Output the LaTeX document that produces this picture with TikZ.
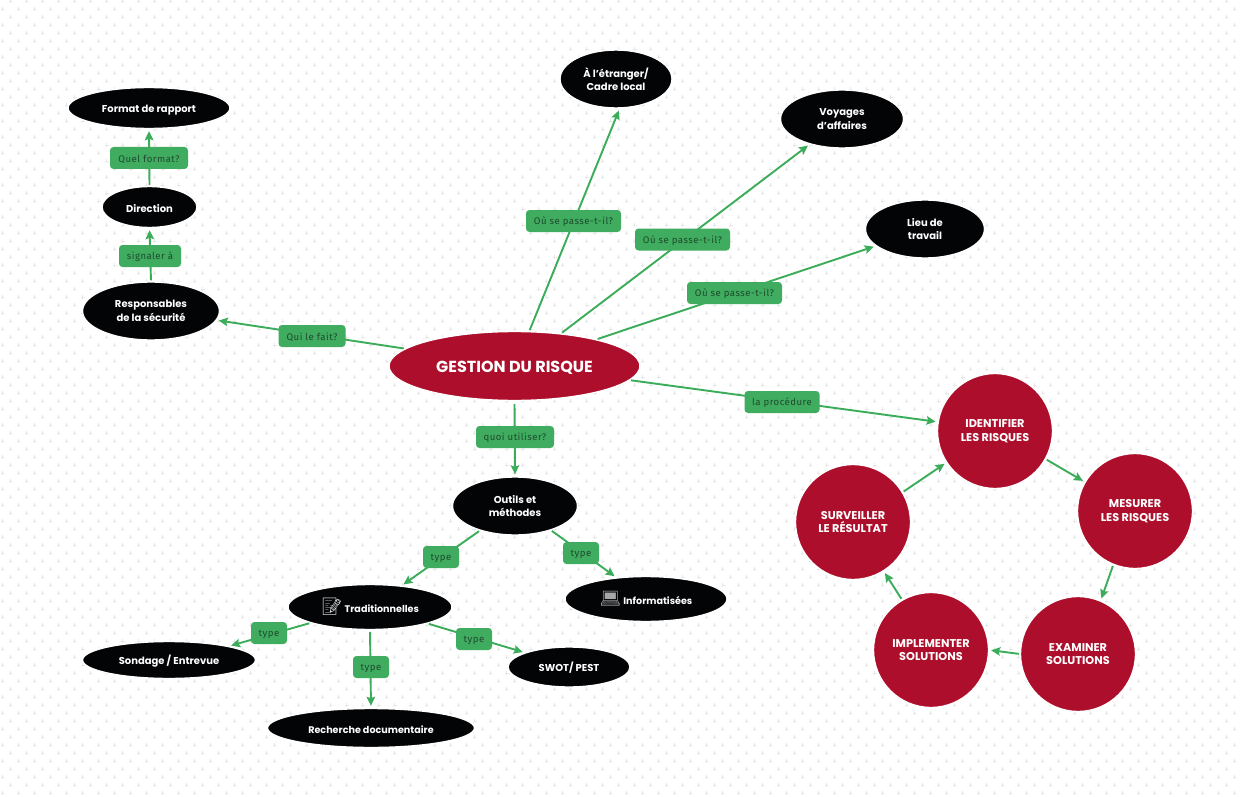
\documentclass[tikz,border=0pt]{standalone}
\usepackage{fontspec}
\usetikzlibrary{shapes.geometric,arrows.meta}
\setmainfont{Poppins}
\newfontfamily\labelfont[LetterSpace=5]{Fira Sans}
\newfontfamily\emojifont{Noto Emoji}
\definecolor{linkgreen}{HTML}{3BAD5A}
\definecolor{labelgreen}{HTML}{3FAC5F}
\definecolor{riskred}{HTML}{AD0E2B}
\definecolor{nearblack}{HTML}{030406}
\definecolor{plusgrey}{HTML}{E8E8E8}
\definecolor{labeltext}{HTML}{1F4A2E}
\newcommand{\iconglyph}[2]{{\emojifont\fontsize{17}{13.5}\selectfont\textcolor{#2}{#1}}}
\tikzset{
  x=1pt,y=-1pt,
  gridplus/.style={draw=plusgrey,line width=0.7pt},
  blob/.style={ellipse,fill=nearblack,draw=white,line width=1.4pt,inner sep=0pt,text=white,align=center,
    font=\fontsize{10}{13.5}\selectfont\bfseries,execute at begin node={\rule{0pt}{11pt}}},
  twoline/.style={execute at begin node={\rule{0pt}{13.5pt}}},
  riskcircle/.style={circle,fill=riskred,draw=white,line width=1.4pt,inner sep=0pt,minimum size=115pt,text=white,align=center,
    font=\fontsize{11.3}{13.5}\selectfont\bfseries,execute at begin node={\rule{0pt}{16pt}}},
  mainblob/.style={ellipse,fill=riskred,draw=white,line width=1.4pt,inner sep=0pt,text=white,
    minimum width=251pt,minimum height=69pt,font=\fontsize{16}{18}\selectfont\bfseries,execute at begin node={\rule{0pt}{15pt}}},
  linklabel/.style={rectangle,rounded corners=3.5pt,fill=labelgreen,inner sep=0pt,minimum height=22pt,text=labeltext,
    font=\labelfont\fontsize{9.6}{12}\selectfont,execute at begin node={\rule{0pt}{10pt}}},
  link/.style={draw=linkgreen,line width=1.9pt,-{Stealth[length=9pt,width=8.5pt,inset=1.5pt]},shorten >=2pt,shorten <=1pt},
}
\begin{document}
\begin{tikzpicture}
\useasboundingbox (0,0) rectangle (1240,797);
\fill[white] (0,0) rectangle (1240,797);
\foreach \i in {0,...,77}{\foreach \j in {0,...,49}{
  \draw[gridplus] ({16*\i+8.7},{16*\j+1.3}) -- ++(4,0) ({16*\i+10.7},{16*\j-0.7}) -- ++(0,4)
                  ({16*\i+0.7},{16*\j+9.3}) -- ++(4,0) ({16*\i+2.7},{16*\j+7.3}) -- ++(0,4);
}}
% nodes
\node[mainblob] (gestion) at (514.5,366) {GESTION DU RISQUE};
\node[blob,minimum width=162pt,minimum height=41pt] (format) at (149,108) {Format de rapport};
\node[blob,minimum width=95pt,minimum height=41pt] (direction) at (149.5,207) {Direction};
\node[blob,twoline,minimum width=137pt,minimum height=58pt] (resp) at (151,311) {Responsables\\de la sécurité};
\node[blob,twoline,minimum width=112pt,minimum height=58pt] (etranger) at (616,79) {À l'étranger/\\Cadre local};
\node[blob,twoline,minimum width=123pt,minimum height=58pt] (voyages) at (842,119) {Voyages\\d'affaires};
\node[blob,twoline,minimum width=119pt,minimum height=58pt] (lieu) at (925,229) {Lieu de\\travail};
\node[blob,twoline,minimum width=125pt,minimum height=58pt] (outils) at (515,506) {Outils et\\méthodes};
\node[blob,minimum width=164pt,minimum height=45pt] (trad) at (370,607) {\iconglyph{📝}{black!15}\ {\fontsize{9.6}{13.5}\selectfont Traditionnelles}};
\node[blob,minimum width=162pt,minimum height=45pt] (info) at (646,599) {\iconglyph{💻}{black!35}\ {\fontsize{9.6}{13.5}\selectfont Informatisées}};
\node[blob,minimum width=173pt,minimum height=37pt] (sondage) at (169,660) {Sondage / Entrevue};
\node[blob,minimum width=122pt,minimum height=40pt] (swot) at (569,667) {SWOT/ PEST};
\node[blob,minimum width=207pt,minimum height=39pt] (recherche) at (371,728) {{\fontsize{9.6}{13.5}\selectfont Recherche documentaire}};
\node[riskcircle] (identifier) at (995,431) {IDENTIFIER\\LES RISQUES};
\node[riskcircle] (mesurer) at (1135,511) {MESURER\\LES RISQUES};
\node[riskcircle] (examiner) at (1078,654) {EXAMINER\\SOLUTIONS};
\node[riskcircle] (implementer) at (931,650) {IMPLEMENTER\\SOLUTIONS};
\node[riskcircle] (surveiller) at (853,522) {SURVEILLER\\LE RÉSULTAT};
% connectors
\draw[link] (gestion.67) -- (etranger.-83);
\draw[link] (gestion.35.6) -- (voyages.-142.6);
\draw[link] (gestion.18) -- (lieu.-161);
\draw[link] (gestion.171.4) -- (resp.-8.4);
\draw[link] (gestion.-7.8) -- (identifier.171);
\draw[link,shorten <=3pt] (gestion.south) -- (outils.north);
\draw[link] (outils.215) -- (trad.34.5);
\draw[link] (outils.-34.4) -- (info.144.6);
\draw[link] (trad.195) -- (sondage.13.8);
\draw[link,shorten <=2pt] (trad.south) -- (recherche.north);
\draw[link] (trad.-16.7) -- (swot.162);
\draw[link] (resp.north) -- (direction.south);
\draw[link] (direction.north) -- (format.south);
\draw[link] (identifier.-29.5) -- (mesurer.150);
\draw[link] (mesurer.248.6) -- (examiner.67.7);
\draw[link] (examiner.west) -- (implementer.east);
\draw[link] (implementer.120.8) -- (surveiller.-58.7);
\draw[link] (surveiller.31.6) -- (identifier.213);
% labels
\node[linklabel,minimum width=95pt] (l1) at (573.5,221) {Où se passe-t-il?};
\node[linklabel,minimum width=95pt] (l2) at (682.5,239.5) {Où se passe-t-il?};
\node[linklabel,minimum width=95pt] (l3) at (734.5,293) {Où se passe-t-il?};
\node[linklabel,minimum width=67pt] (l4) at (312,336) {Qui le fait?};
\node[linklabel,minimum width=78pt] (l5) at (515,437) {quoi utiliser?};
\node[linklabel,minimum width=75pt] (l6) at (782,402) {la procédure};
\node[linklabel,minimum width=36pt] (l7) at (441,557) {type};
\node[linklabel,minimum width=36pt] (l8) at (581,553) {type};
\node[linklabel,minimum width=36pt] (l9) at (269,633) {type};
\node[linklabel,minimum width=36pt] (l10) at (371,667) {type};
\node[linklabel,minimum width=36pt] (l11) at (474,639) {type};
\node[linklabel,minimum width=62pt] (l12) at (150,256) {signaler à};
\node[linklabel,minimum width=78pt] (l13) at (149,158) {Quel format?};
\end{tikzpicture}
\end{document}
